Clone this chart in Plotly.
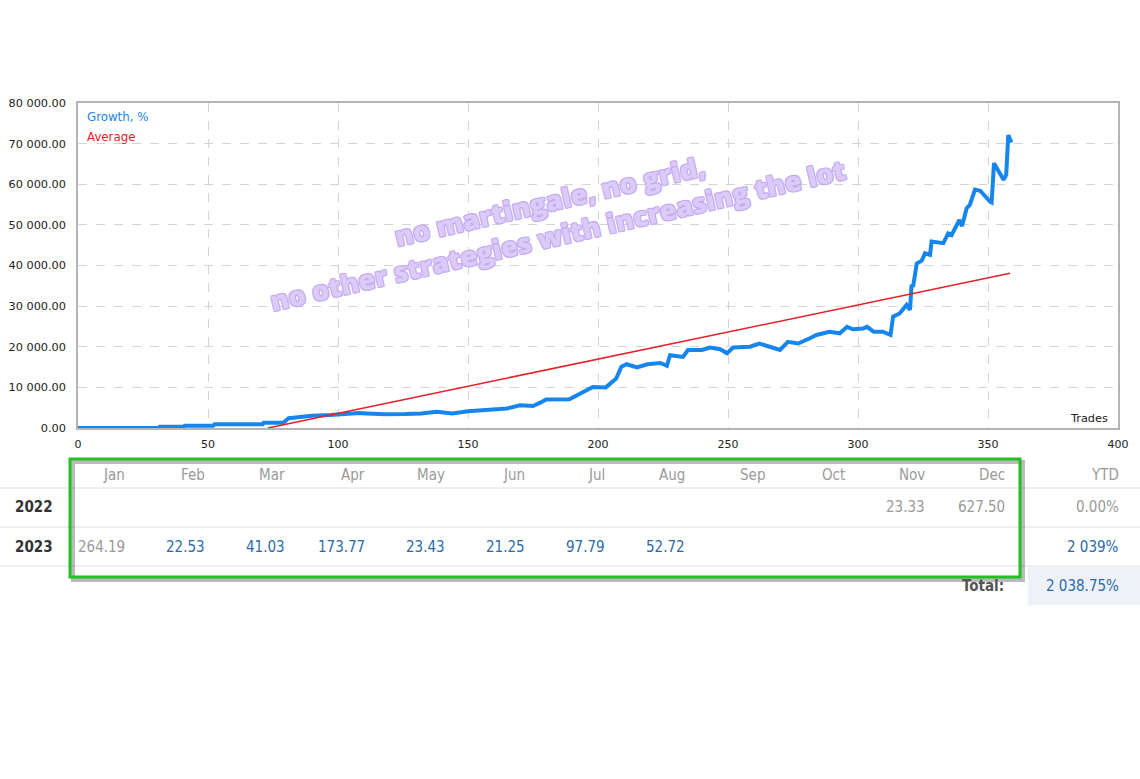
import plotly.graph_objects as go

# ---------------- data ----------------
growth_trades = [0, 31, 31.5, 40.5, 41, 52, 52.5, 71, 71.5, 79, 81, 86.5, 90, 97, 103, 108,
                 111, 118, 126, 132, 138, 144, 150, 155, 160, 165, 170, 175, 178, 180,
                 189, 193, 198, 203, 207, 209, 211, 215, 219, 224, 226.5, 227.7, 232.7,
                 234.6, 240, 243, 247, 249.6, 252, 258.5, 262, 266, 270, 273, 277, 281.5,
                 284, 286, 289, 293, 295.8, 298, 302, 303.5, 306, 309.6, 312.5, 313.5,
                 316, 318.7, 320, 320.6, 321.2, 322.6, 324.5, 325.8, 327.7, 328.3, 332.8,
                 334.7, 336, 339, 340, 341.8, 343, 345, 347, 350.8, 351.4, 352.3, 354,
                 356, 357, 357.8, 359]
growth_pct = [0, 0, 320, 320, 570, 570, 900, 900, 1300, 1300, 2400, 2800, 3000, 3200, 3600, 3700,
              3600, 3400, 3450, 3600, 4000, 3600, 4100, 4260, 4400, 4800, 5600, 5400, 6300, 7000,
              7100, 8500, 10100, 10000, 12200, 15100, 15700, 14900, 15700, 16000, 15300, 17900, 17500,
              19200, 19200, 19800, 19400, 18400, 19800, 20000, 20800, 20000, 19200, 21200, 20800, 22100,
              22900, 23200, 23700, 23300, 24900, 24300, 24500, 24900, 23700, 23700, 22900, 27400,
              28200, 30300, 29100, 35200, 34800, 40500, 41200, 43000, 42600, 45900, 45500,
              47900, 47500, 51200, 49700, 54100, 54900, 58700, 58400, 55700, 55500, 65200, 63500,
              61100, 62300, 72100, 70300]

average_trades = [73, 358.5]
average_pct = [0, 38100]

months = ["Jan", "Feb", "Mar", "Apr", "May", "Jun", "Jul", "Aug", "Sep", "Oct", "Nov", "Dec"]
years = ["2022", "2023"]
values_2022 = [None, None, None, None, None, None, None, None, None, None, "23.33", "627.50"]
values_2023 = ["264.19", "22.53", "41.03", "173.77", "23.43", "21.25", "97.79", "52.72",
               None, None, None, None]
ytd = ["0.00%", "2 039%"]
total_label = "Total:"
total_value = "2 038.75%"

watermark = "no martingale, no grid,<br>no other strategies with increasing the lot"

# ---------------- layout helpers ----------------
W, H = 1140, 779
def px(x):
    return x / W
def py(y):
    return 1 - y / H

BLUE = "#1786ec"
RED = "#e8202a"
GREY = "#9a9a9a"
TBLUE = "#2b6aa8"
TFONT = "DejaVu Sans Condensed, DejaVu Sans"

fig = go.Figure()
fig.add_trace(go.Scatter(x=growth_trades, y=growth_pct, mode="lines",
                         line=dict(color=BLUE, width=4), name="Growth, %"))
fig.add_trace(go.Scatter(x=average_trades, y=average_pct, mode="lines",
                         line=dict(color=RED, width=1.6), name="Average"))

fig.update_layout(
    width=W, height=H,
    margin=dict(l=0, r=0, t=0, b=0, autoexpand=False),
    paper_bgcolor="white", plot_bgcolor="white",
    showlegend=False,
    separators=". ",
    font=dict(family="DejaVu Sans", size=11, color="#222"),
)
fig.update_xaxes(domain=[px(78), px(1118)], range=[0, 400], dtick=50, tick0=0,
                 automargin=False,
                 showgrid=True, gridcolor="#d4d4d4", griddash="dash", gridwidth=1,
                 showline=True, linecolor="#b4b4b4", linewidth=1.5, mirror=True,
                 ticks="", ticklabelstandoff=5, zeroline=False,
                 tickfont=dict(family="DejaVu Sans", size=11, color="#222"))
fig.update_yaxes(domain=[py(428), py(103)], range=[0, 80000], dtick=10000, tick0=0,
                 tickformat=",.2f", automargin=False,
                 showgrid=True, gridcolor="#d4d4d4", griddash="dash", gridwidth=1,
                 showline=True, linecolor="#b4b4b4", linewidth=1.5, mirror=True,
                 ticks="", ticklabelstandoff=8, zeroline=False,
                 tickfont=dict(family="DejaVu Sans", size=11.3, color="#222"))

ann = []
# legend-like labels
ann.append(dict(x=px(85), y=py(117), xref="paper", yref="paper", xanchor="left", yanchor="middle",
                text="Growth, %", showarrow=False, font=dict(size=11.8, color=BLUE, family="DejaVu Sans")))
ann.append(dict(x=px(85), y=py(137), xref="paper", yref="paper", xanchor="left", yanchor="middle",
                text="Average", showarrow=False, font=dict(size=11.8, color=RED, family="DejaVu Sans")))
ann.append(dict(x=px(1110), y=py(418), xref="paper", yref="paper", xanchor="right", yanchor="middle",
                text="Trades", showarrow=False, font=dict(size=11.3, color="#222", family="DejaVu Sans")))

# watermark
ann.append(dict(x=px(553), y=py(218), xref="paper", yref="paper", xanchor="center", yanchor="middle",
                text=watermark, showarrow=False, textangle=-13, align="center",
                font=dict(size=27, color="#dccbf8", family="Open Sans", weight=800,
                          shadow="-1px -1px 0 #c4aaf0, 1px -1px 0 #c4aaf0, -1px 1px 0 #c4aaf0, 1px 1px 0 #c4aaf0")))

# table
col_right = [127 + 80 * i for i in range(12)]
row_y = {"head": 475, "2022": 507, "2023": 547, "total": 586}
for i, m in enumerate(months):
    ann.append(dict(x=px(col_right[i]), y=py(row_y["head"]), xref="paper", yref="paper",
                    xanchor="right", yanchor="middle", text=m, showarrow=False,
                    font=dict(size=15, color=GREY, family=TFONT)))
ann.append(dict(x=px(1121), y=py(row_y["head"]), xref="paper", yref="paper",
                xanchor="right", yanchor="middle", text="YTD", showarrow=False,
                font=dict(size=15, color=GREY, family=TFONT)))
for yr, vals, yt in zip(years, [values_2022, values_2023], ytd):
    ry = row_y[yr]
    ann.append(dict(x=px(34), y=py(ry), xref="paper", yref="paper", xanchor="center", yanchor="middle",
                    text="<b>%s</b>" % yr, showarrow=False,
                    font=dict(size=15, color="#333", family=TFONT)))
    for i, v in enumerate(vals):
        if v is None:
            continue
        col = GREY if (yr == "2022" or i == 0) else TBLUE
        ann.append(dict(x=px(col_right[i]), y=py(ry), xref="paper", yref="paper",
                        xanchor="right", yanchor="middle", text=v, showarrow=False,
                        font=dict(size=15, color=col, family=TFONT)))
    ann.append(dict(x=px(1121), y=py(ry), xref="paper", yref="paper", xanchor="right", yanchor="middle",
                    text=yt, showarrow=False,
                    font=dict(size=15, color=GREY if yr == "2022" else TBLUE, family=TFONT)))
ann.append(dict(x=px(1006), y=py(row_y["total"]), xref="paper", yref="paper", xanchor="right",
                yanchor="middle", text="<b>%s</b>" % total_label, showarrow=False,
                font=dict(size=15, color="#555", family=TFONT)))
ann.append(dict(x=px(1121), y=py(row_y["total"]), xref="paper", yref="paper", xanchor="right",
                yanchor="middle", text=total_value, showarrow=False,
                font=dict(size=15, color=TBLUE, family=TFONT)))

shapes = []
# total cell background
shapes.append(dict(type="rect", xref="paper", yref="paper", x0=px(1028), x1=px(1140),
                   y0=py(605), y1=py(567), fillcolor="#eef2f8", line=dict(width=0), layer="below"))
# row separators
for yy in [488, 527, 566]:
    shapes.append(dict(type="line", xref="paper", yref="paper", x0=0, x1=1, y0=py(yy), y1=py(yy),
                       line=dict(color="#dedede", width=1), layer="below"))
# green frame with shadow
shapes.append(dict(type="rect", xref="paper", yref="paper", x0=px(73), x1=px(1023),
                   y0=py(580), y1=py(462), line=dict(color="rgba(60,60,60,0.35)", width=4)))
shapes.append(dict(type="rect", xref="paper", yref="paper", x0=px(70), x1=px(1020),
                   y0=py(577), y1=py(459), line=dict(color="#22c022", width=3)))

fig.update_layout(annotations=ann, shapes=shapes)
fig.write_html("out.html")
